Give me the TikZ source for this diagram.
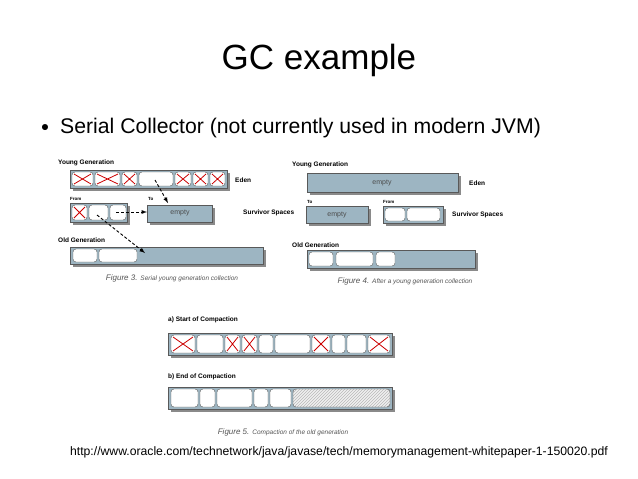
\documentclass[tikz,border=0pt]{standalone}
\usepackage{fontspec}
\setmainfont{Liberation Sans}
\usetikzlibrary{patterns}
\definecolor{barc}{HTML}{9DB5C2}
\definecolor{shad}{HTML}{8A8A8A}
\definecolor{capc}{HTML}{555555}
\tikzset{
  lbl/.style={font=\bfseries\fontsize{6.5}{7}\selectfont,anchor=west,inner sep=0},
  tiny/.style={font=\bfseries\fontsize{4.5}{5}\selectfont,anchor=west,inner sep=0},
  figcap/.style={font=\itshape\fontsize{8}{9}\selectfont,text=capc,inner sep=0},
  mt/.style={font=\fontsize{7}{8}\selectfont,text=gray!60!black,inner sep=0},
  cellst/.style={fill=white,draw=gray!70!black,line width=0.4pt,rounded corners=3pt},
  arr/.style={densely dashed,line width=0.9pt,-latex}
}
\newcommand{\gcbar}[4]{\fill[shad] (#1+3,#2+3) rectangle (#3+3,#4+3);
  \draw[fill=barc,draw=gray!70!black,line width=0.4pt] (#1,#2) rectangle (#3,#4);}
\newcommand{\gccell}[4]{\draw[cellst] (#1,#2) rectangle (#3,#4);}
\newcommand{\gcx}[4]{\gccell{#1}{#2}{#3}{#4}\draw[red!80!black,line width=0.8pt] (#1+2,#2+2)--(#3-2,#4-2) (#1+2,#4-2)--(#3-2,#2+2);}
\begin{document}
\begin{tikzpicture}[x=1pt,y=-1pt]
\useasboundingbox[fill=white] (0,0) rectangle (638,479);
\node (title) at (319,60) {\fontsize{35}{40}\selectfont GC example};
\node (bul) at (45,128) {\fontsize{14}{16}\selectfont ●};
\node[anchor=west,inner sep=0] (sub) at (60,128) {\fontsize{21.2}{25}\selectfont Serial Collector (not currently used in modern JVM)};
% Figure 3
\node[lbl] at (58,163) {Young Generation};
\gcbar{70}{170}{227}{188}
\gcx{72}{172}{93}{186}\gcx{95}{172}{120}{186}\gcx{122}{172}{137}{186}
\gccell{139}{172}{173}{186}
\gcx{175}{172}{191}{186}\gcx{193}{172}{208}{186}\gcx{210}{172}{225}{186}
\node[lbl] at (235,180) {Eden};
\node[tiny] at (70,199) {From};
\node[tiny] at (148,199) {To};
\gcbar{70}{203}{127}{222}
\gcx{72}{205}{87}{220}\gccell{89}{205}{108}{220}\gccell{110}{205}{126}{220}
\gcbar{147}{205}{212}{222}
\node[mt] (e3) at (180,213) {empty};
\node[lbl] at (243,213) {Survivor Spaces};
\node[lbl] at (58,240) {Old Generation};
\gcbar{70}{247}{263}{264}
\gccell{73}{249}{97}{262}\gccell{99}{249}{137}{262}
\coordinate (a1) at (155,180); \coordinate (b1) at (168,203);
\coordinate (a2) at (116,212); \coordinate (b2) at (147,212);
\coordinate (a3) at (97,215); \coordinate (b3) at (145,253);
\draw[arr] (a1)--(b1); \draw[arr] (a2)--(b2); \draw[arr] (a3)--(b3);
\node[figcap] at (172,278) {Figure 3. {\fontsize{6.5}{7}\selectfont Serial young generation collection}};
% Figure 4
\node[lbl] at (292,165) {Young Generation};
\gcbar{307}{173}{458}{192}
\node[mt] at (382,183) {empty};
\node[lbl] at (469,183) {Eden};
\node[tiny] at (307,202) {To};
\node[tiny] at (383,202) {From};
\gcbar{306}{206}{368}{223}
\node[mt] at (337,215) {empty};
\gcbar{383}{206}{443}{223}
\gccell{385}{208}{405}{221}\gccell{407}{208}{440}{221}
\node[lbl] at (452,215) {Survivor Spaces};
\node[lbl] at (292,245) {Old Generation};
\gcbar{307}{250}{475}{268}
\gccell{309}{252}{333}{266}\gccell{336}{252}{373}{266}\gccell{376}{252}{395}{266}
\node[figcap] at (405,281) {Figure 4. {\fontsize{6.5}{7}\selectfont After a young generation collection}};
% Figure 5
\node[lbl] at (168,320) {a) Start of Compaction};
\gcbar{168}{333}{392}{355}
\gcx{171}{335}{195}{353}\gccell{197}{335}{223}{353}\gcx{225}{335}{240}{353}\gcx{242}{335}{257}{353}
\gccell{259}{335}{273}{353}\gccell{275}{335}{310}{353}\gcx{312}{335}{330}{353}\gccell{332}{335}{345}{353}
\gccell{347}{335}{366}{353}\gcx{368}{335}{390}{353}
\node[lbl] at (168,377) {b) End of Compaction};
\gcbar{168}{387}{392}{409}
\gccell{171}{389}{198}{407}\gccell{200}{389}{215}{407}\gccell{217}{389}{252}{407}\gccell{254}{389}{268}{407}\gccell{270}{389}{291}{407}
\fill[gray!12,rounded corners=3pt] (293,389) rectangle (390,407);
\fill[pattern=north east lines,pattern color=gray!55,rounded corners=3pt] (293,389) rectangle (390,407);
\draw[draw=gray!70!black,line width=0.4pt,rounded corners=3pt] (293,389) rectangle (390,407);
\node[figcap] at (283,432) {Figure 5. {\fontsize{6.5}{7}\selectfont Compaction of the old generation}};
\node (url) at (339,452) {\fontsize{12.2}{14}\selectfont http://www.oracle.com/technetwork/java/javase/tech/memorymanagement-whitepaper-1-150020.pdf};
\end{tikzpicture}
\end{document}
